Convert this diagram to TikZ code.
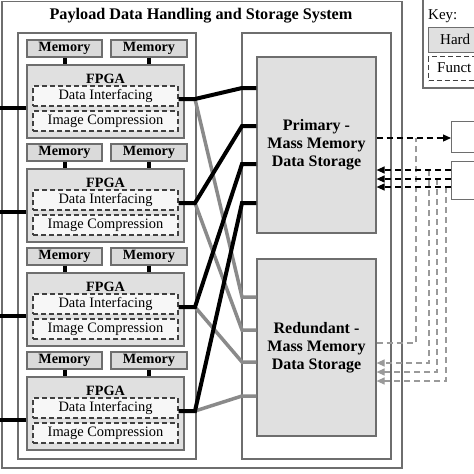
\documentclass[tikz,border=0pt]{standalone}
\usepackage{fontspec}
\setmainfont{Liberation Serif}
\usetikzlibrary{arrows.meta}
\definecolor{frame}{HTML}{6E6E6E}
\definecolor{hwfill}{HTML}{E0E0E0}
\definecolor{memfill}{HTML}{DADADA}
\definecolor{fnfill}{HTML}{F7F7F7}
\definecolor{gline}{HTML}{8A8A8A}
\definecolor{gdash}{HTML}{9A9A9A}
\begin{document}
\begin{tikzpicture}[x=1pt,y=-1pt,
  container/.style={draw=frame,line width=1.4pt},
  hwbox/.style={draw=frame,fill=hwfill,line width=1.2pt,inner sep=0pt},
  membox/.style={hwbox,fill=memfill,minimum width=75pt,minimum height=17pt,font=\bfseries\fontsize{14.2}{16}\selectfont},
  fnbox/.style={draw=black!75,fill=fnfill,line width=1.1pt,dash pattern=on 5pt off 3pt,inner sep=0pt,minimum width=145pt,minimum height=20pt,font=\fontsize{14.4}{16}\selectfont},
  bus/.style={line width=4pt,black},
  gbus/.style={line width=3.5pt,gline},
  sig/.style={line width=1.2pt,dash pattern=on 6pt off 4pt,black},
  gsig/.style={line width=1.2pt,dash pattern=on 6pt off 4pt,gdash},
  tip/.style={-{Triangle[length=8pt,width=7pt]}},
  btxt/.style={font=\bfseries\fontsize{14.2}{16}\selectfont,inner sep=0pt},
  rtxt/.style={font=\fontsize{15}{17}\selectfont,inner sep=0pt}
]
\useasboundingbox (0,0) rectangle (474,474);
\clip (0,0) rectangle (474,474);
\fill[white] (0,0) rectangle (474,474);

% containers
\draw[container] (2,1.5) rectangle (402,468);
\draw[container] (18,33) rectangle (196,459);
\draw[container] (242,33) rectangle (391,459);
\node[font=\bfseries\fontsize{16.2}{18}\selectfont,inner sep=0pt] (title) at (201,16) {Payload Data Handling and Storage System};

% storage
\node[hwbox,minimum width=119pt,minimum height=176pt,align=center,font=\bfseries\fontsize{16}{18}\selectfont] (prim) at (316.5,145) {Primary -\\Mass Memory\\Data Storage};
\node[hwbox,minimum width=119pt,minimum height=177pt,align=center,font=\bfseries\fontsize{16}{18}\selectfont] (red) at (316.5,347.5) {Redundant -\\Mass Memory\\Data Storage};

% FPGA modules
\foreach \i/\p/\r in {0/88/297,1/126/330,2/164/362,3/203/396}{
  \pgfmathsetmacro{\d}{104*\i}
  \node[membox] (ml\i) at (64.5,48.5+\d) {Memory};
  \node[membox,minimum width=76pt] (mr\i) at (149,48.5+\d) {Memory};
  \node[hwbox,minimum width=157pt,minimum height=73pt] (fp\i) at (105.5,101.5+\d) {};
  \node[btxt] (fl\i) at (105.5,79+\d) {FPGA};
  \node[fnbox] (di\i) at (105.5,96+\d) {Data Interfacing};
  \node[fnbox] (ic\i) at (105.5,121+\d) {Image Compression};
  \draw[bus] (ml\i.south) -- (ml\i.south |- fp\i.north);
  \draw[bus] (mr\i.south) -- (mr\i.south |- fp\i.north);
  \coordinate (in\i) at (0,108+\d);
  \draw[bus] (in\i) -- (fp\i.west |- in\i);
  \coordinate (j\i) at (195,99+\d);
  \coordinate (pa\i) at (242,\p);
  \coordinate (ra\i) at (242,\r);
}
\foreach \i in {0,...,3}{
  \draw[gbus] (j\i) -- (ra\i) -- (red.west |- ra\i);
}
\foreach \i in {0,...,3}{
  \draw[bus] (di\i.east |- j\i) -- (j\i) -- (pa\i) -- (prim.west |- pa\i);
}

% external boxes
\node[draw=frame,line width=1.2pt,fill=white,minimum width=40pt,minimum height=31pt,anchor=north west,inner sep=0pt] (o1) at (451,121) {};
\node[draw=frame,line width=1.2pt,fill=white,minimum width=40pt,minimum height=38pt,anchor=north west,inner sep=0pt] (o2) at (451,161) {};

\coordinate (ya) at (0,138);
\coordinate (yb) at (0,170);
\coordinate (yc) at (0,179);
\coordinate (yd) at (0,187);
\coordinate (ga0) at (416,138);
\coordinate (ga1) at (416,343);
\coordinate (gb0) at (429,170);
\coordinate (gb1) at (429,363);
\coordinate (gc0) at (437,179);
\coordinate (gc1) at (437,372);
\coordinate (gd0) at (446,187);
\coordinate (gd1) at (446,381);

\draw[gsig] (red.east |- ga1) -- (ga1) -- (ga0);
\draw[gsig,tip] (gb0) -- (gb1) -- (red.east |- gb1);
\draw[gsig,tip] (gc0) -- (gc1) -- (red.east |- gc1);
\draw[gsig,tip] (gd0) -- (gd1) -- (red.east |- gd1);

\draw[sig,tip] (prim.east |- ya) -- (o1.west |- ya);
\draw[sig,tip] (o2.west |- yb) -- (prim.east |- yb);
\draw[sig,tip] (o2.west |- yc) -- (prim.east |- yc);
\draw[sig,tip] (o2.west |- yd) -- (prim.east |- yd);

% key
\draw[container] (423,-2) rectangle (520,88);
\node[rtxt,anchor=west] (key) at (428,16) {Key:};
\node[hwbox,anchor=north west,minimum width=80pt,minimum height=25pt] (kh) at (428,27) {};
\node[rtxt,anchor=west] (kht) at (440,39.5) {Hard};
\node[draw=black!75,fill=white,line width=1.1pt,dash pattern=on 5pt off 3pt,anchor=north west,minimum width=80pt,minimum height=24pt,inner sep=0pt] (kf) at (428,56) {};
\node[rtxt,anchor=west] (kft) at (437,68) {Funct};
\end{tikzpicture}
\end{document}
